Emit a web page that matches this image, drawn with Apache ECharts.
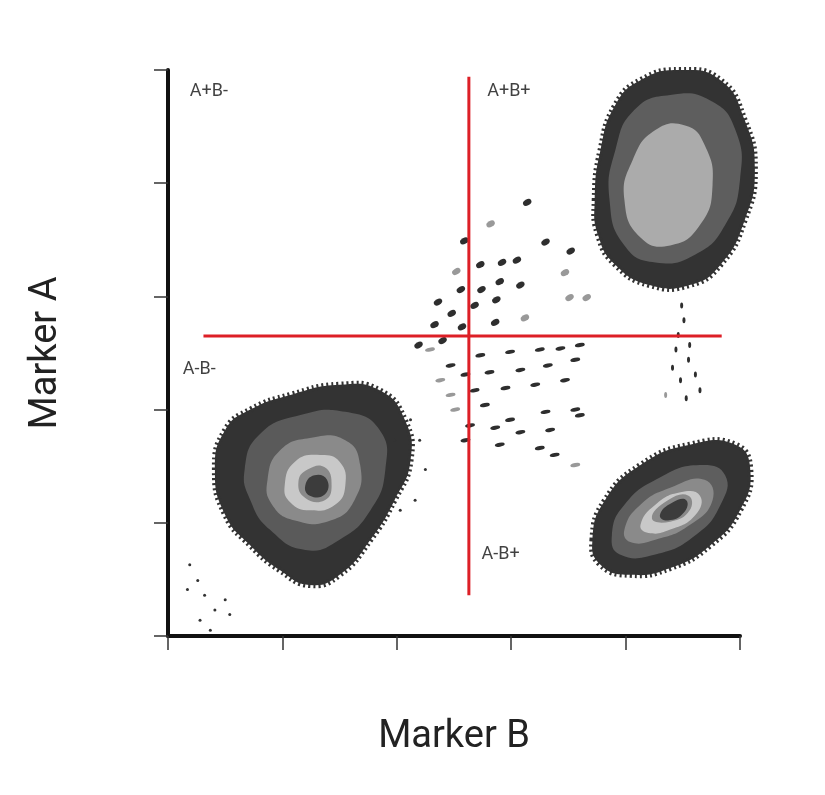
<!doctype html>
<html>
<head>
<meta charset="UTF-8">
<title>Marker A vs Marker B</title>
<script src="https://cdn.jsdelivr.net/npm/echarts@6/dist/echarts.min.js"></script>
<style>html,body{margin:0;background:#fff}#main{width:825px;height:795px}</style>
</head>
<body>
<div id="main"></div>
<script>
// blob outlines (data units, axes 0..500)
var blobBL1 = [[41,147],[50,182],[72,200],[107,213],[150,222],[185,217],[207,191],[212,155],[198,120],[177,85],[150,54],[124,45],[98,58],[72,80],[50,107]];
var blobBL2 = [[67,147],[80,178],[115,195],[155,198],[185,182],[190,147],[177,111],[150,85],[120,76],[89,94],[72,120]];
var blobBL3 = [[87,138],[98,164],[124,175],[155,173],[168,151],[163,120],[142,102],[111,102],[91,116]];
var blobBL4 = [[102,133],[111,154],[133,160],[150,154],[155,133],[146,116],[124,111],[107,118]];
var blobBL5 = [[114,136],[122,147],[137,149],[143,133],[137,120],[120,122]];
var blobBL6 = [[120,133],[128,142],[139,138],[137,125],[124,124]];
var blobTR1 = [[373,385],[378,429],[391,469],[413,491],[448,500],[483,491],[504,456],[513,412],[504,367],[483,328],[456,310],[421,310],[391,328],[376,354]];
var blobTR2 = [[386,385],[391,429],[408,465],[439,478],[474,473],[496,447],[500,403],[487,363],[461,337],[426,330],[399,345]];
var blobTR3 = [[399,385],[406,420],[426,447],[452,451],[469,434],[476,398],[465,363],[439,345],[413,352]];
var blobBR1 = [[371,85],[382,120],[413,151],[456,169],[496,169],[509,147],[500,111],[474,80],[439,60],[404,54],[378,63]];
var blobBR2 = [[388,89],[399,116],[430,140],[465,151],[487,142],[483,116],[461,89],[426,72],[395,72]];
var blobBR3 = [[399,94],[413,116],[439,131],[469,138],[476,120],[456,98],[426,85],[404,83]];
var blobBR4 = [[413,98],[426,116],[448,127],[465,124],[461,107],[439,94],[420,91]];
var blobBR5 = [[423,104],[437,120],[455,124],[456,111],[439,101]];
var blobBR6 = [[430,107],[441,118],[453,120],[451,109],[437,102]];

var upperDark = [[314,383],[259,349],[330,348],[352,340],[292,330],[305,332],[273,328],[236,295],[256,306],[274,306],[290,313],[308,310],[248,285],[268,292],[287,297],[233,275],[257,273],[286,277],[219,257],[240,261]];
var upperGray = [[282,364],[252,322],[347,321],[366,299],[351,299],[312,281]];
var lowerDark = [[247,239],[273,248],[299,251],[325,253],[343,254],[360,257],[260,231],[281,233],[308,235],[332,239],[356,244],[268,217],[295,219],[321,222],[347,226],[277,204],[299,191],[330,198],[356,200],[264,186],[286,184],[308,180],[334,182],[360,195],[260,173],[290,169],[325,166],[338,160]];
var lowerGray = [[229,253],[238,226],[247,213],[251,200],[356,151]];
var tailDark = [[449,292],[451,279],[446,266],[456,257],[444,253],[455,244],[441,237],[461,231],[448,226],[465,217],[453,210]];
var tailGray = [[435,213]];
var fringe = [[19,63],[26,49],[32,36],[41,23],[28,14],[50,32],[37,5],[54,19],[17,41],[212,191],[220,173],[207,147],[225,147],[216,120],[203,111],[198,173]];

var quadLabels = [['A+B-',19,481],['A+B+',279,481],['A-B-',13,235],['A-B+',274,72]];
var vLine = [[263,36],[263,494]];
var hLine = [[31,265],[484,265]];

function blob(pts, color, edge) {
  return {
    type: 'custom', silent: true, data: [0],
    renderItem: function (params, api) {
      return {
        type: 'polygon',
        shape: { points: pts.map(function (p) { return api.coord(p); }), smooth: 0.5 },
        style: { fill: color, stroke: edge ? '#333' : null, lineWidth: edge ? 6 : 0, lineDash: edge ? [2, 3] : null }
      };
    }
  };
}
function dots(d, color, size, rot) {
  return { type: 'scatter', data: d, symbol: 'circle', symbolSize: size, symbolRotate: rot, itemStyle: { color: color, opacity: 1 }, silent: true };
}

var chart = echarts.init(document.getElementById('main'));
chart.setOption({
  animation: false,
  grid: { left: 168, right: 85, top: 70, bottom: 159 },
  xAxis: {
    type: 'value', min: 0, max: 500, interval: 100,
    name: 'Marker B', nameLocation: 'middle', nameGap: 82,
    nameTextStyle: { fontSize: 38, color: '#222', fontFamily: 'Roboto' },
    axisLine: { show: true, lineStyle: { color: '#111', width: 4 } },
    axisTick: { show: true, length: 14, lineStyle: { color: '#333', width: 1.5 } },
    axisLabel: { show: false }, splitLine: { show: false }
  },
  yAxis: {
    type: 'value', min: 0, max: 500, interval: 100,
    name: 'Marker A', nameLocation: 'middle', nameGap: 103,
    nameTextStyle: { fontSize: 38, color: '#222', fontFamily: 'Roboto' },
    axisLine: { show: true, lineStyle: { color: '#111', width: 4 } },
    axisTick: { show: true, length: 14, lineStyle: { color: '#333', width: 1.5 } },
    axisLabel: { show: false }, splitLine: { show: false }
  },
  series: [
    blob(blobBL1, '#333', true), blob(blobBL2, '#5a5a5a'), blob(blobBL3, '#8a8a8a'),
    blob(blobBL4, '#c8c8c8'), blob(blobBL5, '#8a8a8a'), blob(blobBL6, '#3c3c3c'),
    blob(blobTR1, '#333', true), blob(blobTR2, '#5e5e5e'), blob(blobTR3, '#ababab'),
    blob(blobBR1, '#333', true), blob(blobBR2, '#5e5e5e'), blob(blobBR3, '#8a8a8a'),
    blob(blobBR4, '#c8c8c8'), blob(blobBR5, '#8a8a8a'), blob(blobBR6, '#3c3c3c'),
    dots(upperDark, '#2e2e2e', [9, 6], 30), dots(upperGray, '#999', [9, 6], 30),
    dots(lowerDark, '#2e2e2e', [10, 4], 10), dots(lowerGray, '#999', [10, 4], 10),
    dots(tailDark, '#2e2e2e', [3, 6], 0), dots(tailGray, '#999', [3, 6], 0),
    dots(fringe, '#333', 3, 0),
    { type: 'line', data: vLine, symbol: 'none', lineStyle: { color: '#dd1f26', width: 3 }, silent: true },
    { type: 'line', data: hLine, symbol: 'none', lineStyle: { color: '#dd1f26', width: 3 }, silent: true },
    {
      type: 'scatter', symbolSize: 0, silent: true,
      data: quadLabels.map(function (q) { return { value: [q[1], q[2]], name: q[0] }; }),
      label: { show: true, position: 'right', distance: 0, formatter: '{b}', fontSize: 18, color: '#111', fontFamily: 'Roboto' }
    }
  ]
});
</script>
</body>
</html>
